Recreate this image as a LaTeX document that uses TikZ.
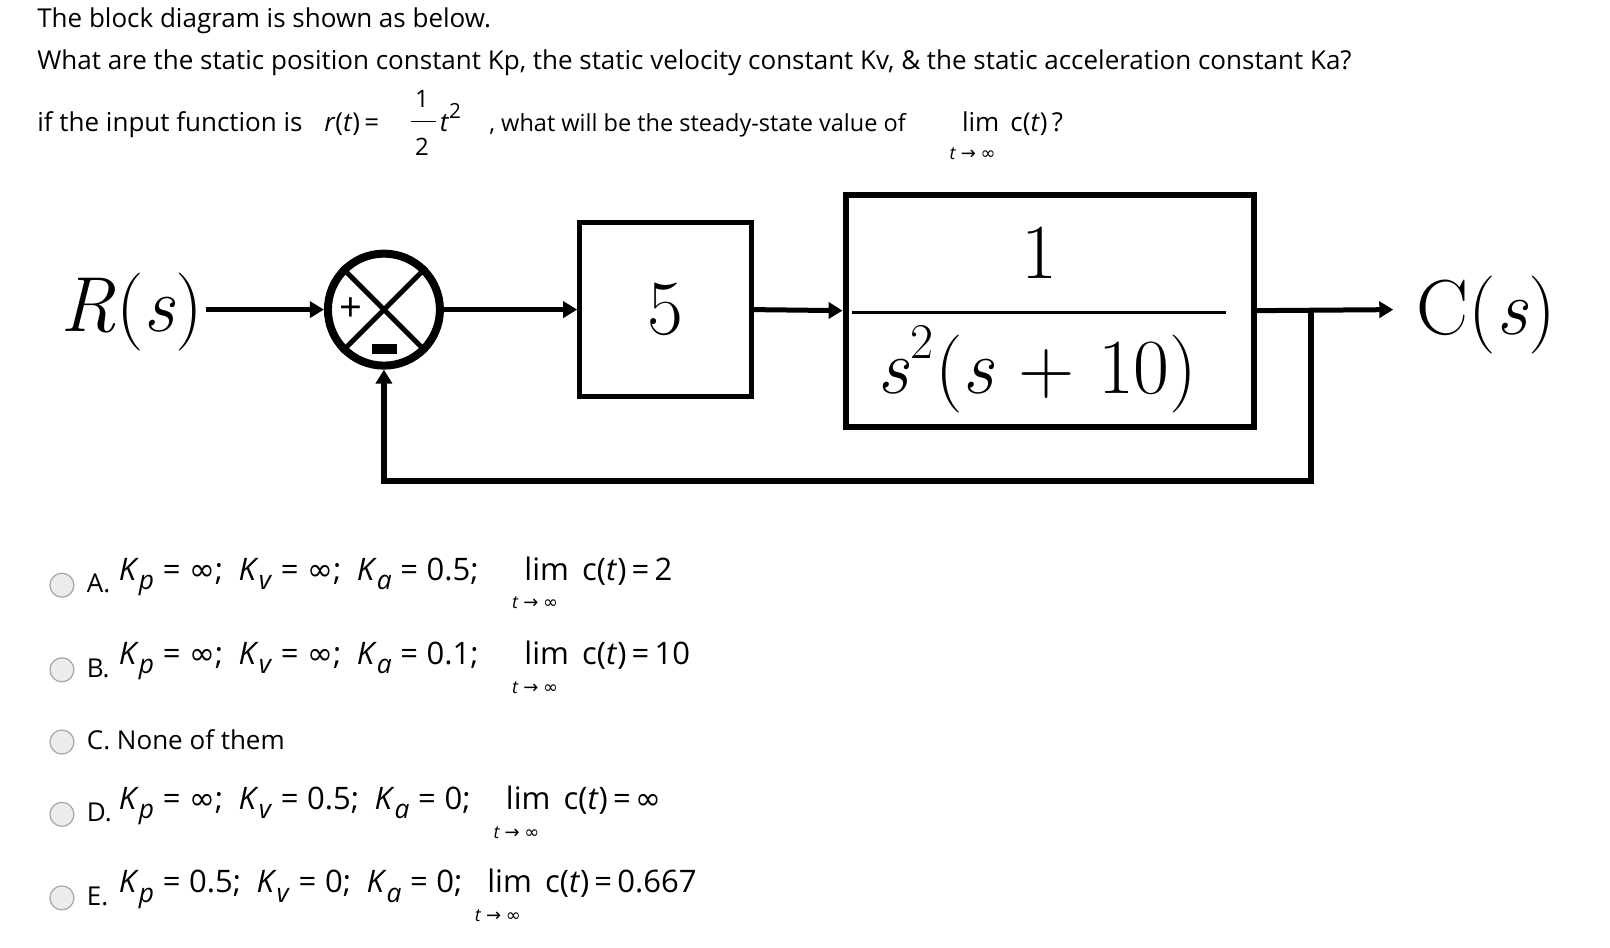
\documentclass[tikz,border=0pt]{standalone}
\usepackage{fontspec}
\setmainfont{Open Sans}
\newfontfamily\dv{DejaVu Sans}
\newfontfamily\lm{Latin Modern Roman}
\usetikzlibrary{arrows.meta}
\newcommand\Kx[1]{\textit{K}\raisebox{-0.3em}{\scalebox{0.85}{\textit{#1}}}}
\newcommand\infy{{\dv ∞}}
\newcommand\eqq{\;=\;}
\newcommand\sep{;\enspace}
\begin{document}
\begin{tikzpicture}[x=1.032pt,y=-1.032pt,
  txt/.style={anchor=base west,inner sep=0pt,font=\fontsize{26}{30}\selectfont},
  frm/.style={anchor=base west,inner sep=0pt,font=\fontsize{31}{34}\selectfont},
  sub/.style={anchor=base west,inner sep=0pt,font=\fontsize{18}{20}\selectfont},
  big/.style={inner sep=0pt,font=\fontsize{78}{82}\selectfont\lm},
  ar/.style={line width=5pt,-{Triangle[length=14pt,width=16pt]}},
  radio/.style={circle,draw=gray!70,fill=gray!15,line width=1.2pt,minimum size=24pt,inner sep=0pt}]
\useasboundingbox (0,0) rectangle (1560,918.5);
\node[txt] (l1) at (36,27) {The block diagram is shown as below.};
\node[txt] (l2) at (36,67) {What are the static position constant Kp, the static velocity constant Kv, \& the static acceleration constant Ka?};
\node[txt] (l3) at (36,127) {if the input function is};
\node[txt] (rt) at (314,127) {\textit{r}(\textit{t})\,=};
\node[sub,font=\fontsize{24}{26}\selectfont] (f1) at (402,104) {1};
\node[sub,font=\fontsize{24}{26}\selectfont] (f2) at (402,151) {2};
\draw[line width=1pt] (398,118) -- (422,118);
\node[txt] (t2) at (426,127) {\textit{t}\raisebox{0.5em}{\scalebox{0.8}{2}}};
\node[txt,font=\fontsize{23.5}{28}\selectfont] (l3b) at (474,127) {, what will be the steady-state value of};
\node[txt] (lim0) at (932,127) {lim\, c(\textit{t})\,?};
\node[sub] (s0) at (920,155) {\textit{t} {\dv →} \infy};

% diagram
\node[big] (R) at (128,302) {\textit{R}(\textit{s})};
\node[circle,draw,line width=8pt,minimum size=112pt,inner sep=0pt] (sum) at (372,300) {};
\draw[line width=5pt] (sum.north west) -- (sum.south east) (sum.north east) -- (sum.south west);
\node[font=\fontsize{40}{40}\selectfont] (plus) at (340,300) {+};
\fill (360,333) rectangle (385,343);
\node[draw,line width=5pt,minimum width=172pt,minimum height=174pt,inner sep=0pt,font=\fontsize{78}{82}\selectfont\lm] (g1) at (645,300) {5};
\node[draw,line width=6pt,minimum width=408pt,minimum height=232pt,inner sep=0pt] (g2) at (1017,301) {};
\draw[line width=3pt] (826,303) -- (1188,303);
\node[big] (num) at (1007,245) {1};
\node[big] (den) at (1005,358) {{\itshape s}\kern2pt\raisebox{0.45em}{\fontsize{50}{50}\selectfont 2}\kern2pt(\textit{s} + 10)};
\node[big] (C) at (1440,305) {C(\textit{s})};
\coordinate (r0) at (200,300);
\draw[ar] (r0) -- (sum.west);
\draw[ar] (sum.east) -- (g1.west);
\draw[ar] (g1.east) -- (g2.west);
\coordinate (o1) at (1350,300);
\draw[ar] (g2.east) -- (o1);
\coordinate (fb1) at (1270,300);
\coordinate (fb2) at (1270,466);
\coordinate (fb3) at (372,466);
\draw[line width=6pt,-{Triangle[length=14pt,width=16pt]}] (fb1) -- (fb2) -- (fb3) -- (sum.south);

% options
\foreach \y/\n in {567/a,649/b,719/c,789/d,870/e} \node[radio] (r\n) at (60,\y) {};
\node[txt] (oa) at (84,574) {A.};
\node[frm] (ka) at (115,562) {\Kx{p}\eqq\infy\sep\Kx{v}\eqq\infy\sep\Kx{a}\eqq0.5;};
\node[frm] (la) at (508,562) {lim\, c(\textit{t})\,=\,2};
\node[sub] (sa) at (496,590) {\textit{t} {\dv →} \infy};
\node[txt] (ob) at (84,656) {B.};
\node[frm] (kb) at (115,644) {\Kx{p}\eqq\infy\sep\Kx{v}\eqq\infy\sep\Kx{a}\eqq0.1;};
\node[frm] (lb) at (508,644) {lim\, c(\textit{t})\,=\,10};
\node[sub] (sb) at (496,672) {\textit{t} {\dv →} \infy};
\node[txt] (oc) at (84,726) {C. None of them};
\node[txt] (od) at (84,796) {D.};
\node[frm] (kd) at (115,784) {\Kx{p}\eqq\infy\sep\Kx{v}\eqq0.5\sep\Kx{a}\eqq0;};
\node[frm] (ld) at (490,784) {lim\, c(\textit{t})\,=\,\infy};
\node[sub] (sd) at (478,812) {\textit{t} {\dv →} \infy};
\node[txt] (oe) at (84,877) {E.};
\node[frm] (ke) at (115,865) {\Kx{p}\eqq0.5\sep\Kx{v}\eqq0\sep\Kx{a}\eqq0;};
\node[frm] (le) at (472,865) {lim\, c(\textit{t})\,=\,0.667};
\node[sub] (se) at (460,893) {\textit{t} {\dv →} \infy};
\end{tikzpicture}
\end{document}
